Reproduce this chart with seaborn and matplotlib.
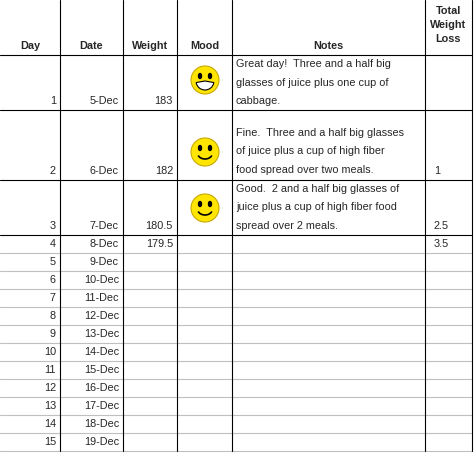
import matplotlib
matplotlib.use("Agg")
import matplotlib.pyplot as plt
import matplotlib.patches as mpatches
import seaborn as sns

sns.set_theme(style="white")
plt.rcParams['font.family'] = ['Liberation Sans', 'DejaVu Sans']

# data
days = list(range(1, 16))
dates = [f"{d}-Dec" for d in range(5, 20)]
weights = ["183", "182", "180.5", "179.5"]
losses = ["", "1", "2.5", "3.5"]
notes = [
    ["Great day!  Three and a half big", "glasses of juice plus one cup of", "cabbage."],
    ["Fine.  Three and a half big glasses", "of juice plus a cup of high fiber", "food spread over two meals."],
    ["Good.  2 and a half big glasses of", "juice plus a cup of high fiber food", "spread over 2 meals."],
]
headers = ["Day", "Date", "Weight", "Mood", "Notes", "Total\nWeight\nLoss"]

# layout (pixels)
col_x = [0, 60, 123, 177, 232, 425, 472]
row_y = [0, 55, 110, 180, 235] + [235 + 18 * i for i in range(1, 13)]

fig = plt.figure(figsize=(4.75, 4.55), dpi=100)
ax = fig.add_axes([0, 0, 1, 1])
ax.set_xlim(0, 475)
ax.set_ylim(455, 0)
ax.axis("off")

fs = 7.8
# grid
for i, y in enumerate(row_y[1:], start=1):
    c = "black" if i <= 4 else "#bfbfbf"
    ax.plot([0, col_x[-1]], [y, y], color=c, lw=0.8)
for x in col_x[1:]:
    ax.plot([x, x], [0, row_y[-1]], color="black", lw=0.8)

# headers
centers = [(col_x[i] + col_x[i + 1]) / 2 for i in range(6)]
for i, h in enumerate(headers[:5]):
    ax.text(centers[i], 46, h, ha="center", va="center", fontsize=fs, fontweight="bold")
ax.text(centers[5], 25, headers[5], ha="center", va="center", fontsize=fs,
        fontweight="bold", linespacing=1.55)

# rows
for i in range(len(days)):
    yb = row_y[i + 2] - 9
    ax.text(col_x[1] - 4, yb, str(days[i]), ha="right", va="center", fontsize=fs)
    ax.text(col_x[2] - 4, yb, dates[i], ha="right", va="center", fontsize=fs)
    if i < len(weights):
        ax.text(col_x[3] - 4, yb, weights[i], ha="right", va="center", fontsize=fs)
        if losses[i]:
            ax.text(col_x[5] + 9, yb, losses[i], ha="left", va="center", fontsize=fs)

for i, lines in enumerate(notes):
    y0 = row_y[i + 1] + 9 if i != 1 else row_y[2] + 23
    for j, line in enumerate(lines):
        ax.text(col_x[4] + 4, y0 + j * 18.5, line, ha="left", va="center", fontsize=fs)

# smileys
for k, cy in enumerate([80, 152, 208]):
    cx = 205
    ax.add_patch(mpatches.Circle((cx, cy), 14, facecolor="#ffe500", edgecolor="#c8a800", lw=0.8))
    ax.add_patch(mpatches.Ellipse((cx - 5, cy - 4), 3, 5, color="black"))
    ax.add_patch(mpatches.Ellipse((cx + 5, cy - 4), 3, 5, color="black"))
    if k == 0:
        ax.add_patch(mpatches.Wedge((cx, cy + 1), 9, 10, 170, facecolor="white", edgecolor="black", lw=0.8))
    else:
        ax.add_patch(mpatches.Arc((cx, cy + 1), 15, 12, theta1=20, theta2=160, color="black", lw=1.2))

fig.savefig("out.png", dpi=100)
